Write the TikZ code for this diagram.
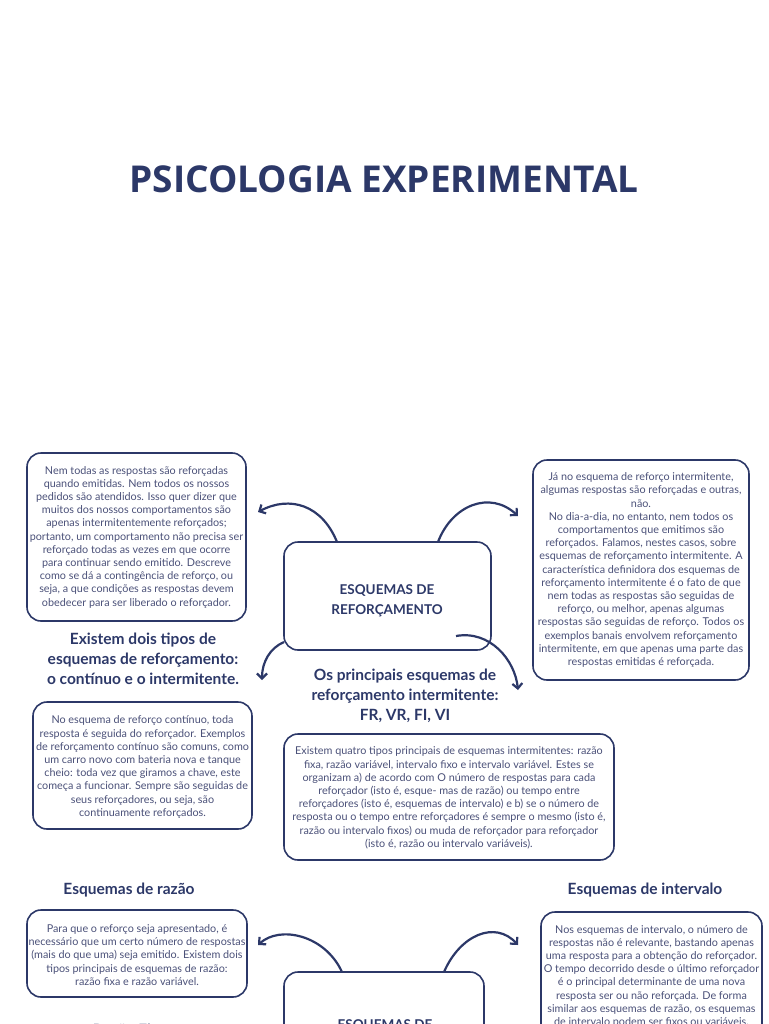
\documentclass[tikz,border=0pt]{standalone}
\usepackage{fontspec}
\setmainfont{Lato}
\newfontfamily\titlefont{Open Sans}
\usetikzlibrary{arrows.meta}
\definecolor{navy}{HTML}{2C3868}
\definecolor{txt}{HTML}{4A5078}
\begin{document}
\begin{tikzpicture}[x=1pt,y=-1pt,
  box/.style={draw=navy,line width=1.6pt,rounded corners=14pt},
  body/.style={text=txt,font=\fontsize{10.8}{13.2}\selectfont,align=center,inner sep=0pt},
  head/.style={text=navy,font=\fontsize{15.5}{20}\selectfont\bfseries,align=center},
  arr/.style={draw=navy,line width=2.2pt,-{Straight Barb[length=5pt,width=10pt]}}]
\useasboundingbox (0,0) rectangle (768,1024);
\clip (0,0) rectangle (768,1024);
\node[text=navy,font=\titlefont\fontsize{37}{40}\selectfont\bfseries] (title) at (384,179) {PSICOLOGIA EXPERIMENTAL};
% boxes
\draw[box] (27,453) rectangle (246,621);
\node[body] (ta) at (136.5,537) {Nem todas as respostas são reforçadas\\quando emitidas. Nem todos os nossos\\pedidos são atendidos. Isso quer dizer que\\muitos dos nossos comportamentos são\\apenas intermitentemente reforçados;\\portanto, um comportamento não precisa ser\\reforçado todas as vezes em que ocorre\\para continuar sendo emitido. Descreve\\como se dá a contingência de reforço, ou\\seja, a que condições as respostas devem\\obedecer para ser liberado o reforçador.};
\draw[box] (284,542) rectangle (491,650);
\node[head,font=\fontsize{13.5}{20}\selectfont\bfseries] (cen) at (387,601) {ESQUEMAS DE\\REFORÇAMENTO};
\draw[box] (533,460) rectangle (749,680);
\node[body] (tb) at (641,570) {Já no esquema de reforço intermitente,\\algumas respostas são reforçadas e outras,\\não.\\No dia-a-dia, no entanto, nem todos os\\comportamentos que emitimos são\\reforçados. Falamos, nestes casos, sobre\\esquemas de reforçamento intermitente. A\\característica definidora dos esquemas de\\reforçamento intermitente é o fato de que\\nem todas as respostas são seguidas de\\reforço, ou melhor, apenas algumas\\respostas são seguidas de reforço. Todos os\\exemplos banais envolvem reforçamento\\intermitente, em que apenas uma parte das\\respostas emitidas é reforçada.};
\node[head] (h1) at (143,659) {Existem dois tipos de\\esquemas de reforçamento:\\o contínuo e o intermitente.};
\node[head] (h2) at (405,696) {Os principais esquemas de\\reforçamento intermitente:\\FR, VR, FI, VI};
\draw[box] (33,702) rectangle (252,829);
\node[body] (tc) at (142.5,767) {No esquema de reforço contínuo, toda\\resposta é seguida do reforçador. Exemplos\\de reforçamento contínuo são comuns, como\\um carro novo com bateria nova e tanque\\cheio: toda vez que giramos a chave, este\\começa a funcionar. Sempre são seguidas de\\seus reforçadores, ou seja, são\\continuamente reforçados.};
\draw[box] (284,734) rectangle (614,860);
\node[body] (td) at (449,798) {Existem quatro tipos principais de esquemas intermitentes: razão\\fixa, razão variável, intervalo fixo e intervalo variável. Estes se\\organizam a) de acordo com O número de respostas para cada\\reforçador (isto é, esque- mas de razão) ou tempo entre\\reforçadores (isto é, esquemas de intervalo) e b) se o número de\\resposta ou o tempo entre reforçadores é sempre o mesmo (isto é,\\razão ou intervalo fixos) ou muda de reforçador para reforçador\\(isto é, razão ou intervalo variáveis).};
\node[head] (h3) at (129,890) {Esquemas de razão};
\node[head] (h4) at (645,890) {Esquemas de intervalo};
\draw[box] (27,910) rectangle (247,997);
\node[body] (te) at (137,955) {Para que o reforço seja apresentado, é\\necessário que um certo número de respostas\\(mais do que uma) seja emitido. Existem dois\\tipos principais de esquemas de razão:\\razão fixa e razão variável.};
\draw[box] (541,912) rectangle (762,1080);
\node[body,anchor=north] (tf) at (651.5,925) {Nos esquemas de intervalo, o número de\\respostas não é relevante, bastando apenas\\uma resposta para a obtenção do reforçador.\\O tempo decorrido desde o último reforçador\\é o principal determinante de uma nova\\resposta ser ou não reforçada. De forma\\similar aos esquemas de razão, os esquemas\\de intervalo podem ser fixos ou variáveis.};
\draw[box] (284,972) rectangle (484,1090);
\node[head,font=\fontsize{13.5}{20}\selectfont\bfseries] (cen2) at (385,1026) {ESQUEMAS DE};
\node[head] (h5) at (130,1030) {Razão Fixa};
% arrows
\coordinate (a1s) at (337,542); \coordinate (a1e) at (258,512);
\coordinate (a2s) at (438,542); \coordinate (a2e) at (518,516);
\coordinate (a3s) at (284,642); \coordinate (a3e) at (262,680);
\coordinate (a4s) at (456,636); \coordinate (a4e) at (518,690);
\coordinate (a5s) at (342,972); \coordinate (a5e) at (258,945);
\coordinate (a6s) at (444,972); \coordinate (a6e) at (518,945);
\draw[arr] (a1s) .. controls (322,505) and (290,495) .. (a1e);
\draw[arr] (a2s) .. controls (452,505) and (490,490) .. (a2e);
\draw[arr] (a3s) .. controls (270,648) and (262,662) .. (a3e);
\draw[arr] (a4s) .. controls (490,630) and (515,660) .. (a4e);
\draw[arr] (a5s) .. controls (325,935) and (280,925) .. (a5e);
\draw[arr] (a6s) .. controls (460,935) and (495,920) .. (a6e);
\end{tikzpicture}
\end{document}
